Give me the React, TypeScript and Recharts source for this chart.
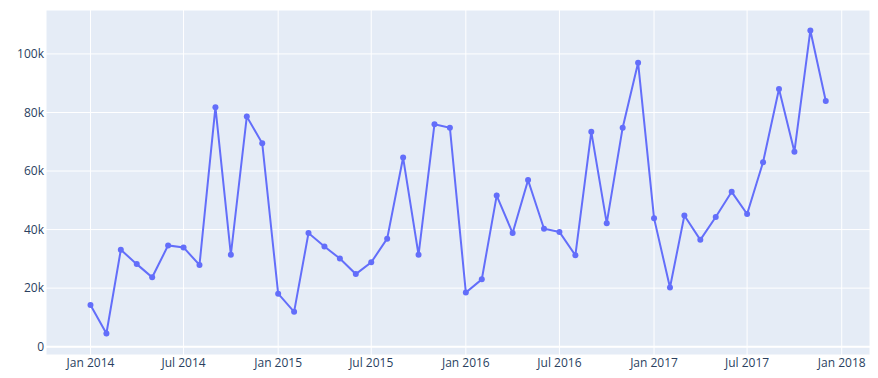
import { LineChart, Line, XAxis, YAxis, CartesianGrid, ReferenceLine } from "recharts";

const years = [2014, 2015, 2016, 2017];
const monthValues = [
  // 2014
  14200, 4500, 33100, 28200, 23700, 34600, 33900, 27900, 81800, 31400, 78600, 69500,
  // 2015
  18100, 11900, 38800, 34200, 30100, 24800, 28800, 36900, 64600, 31400, 76000, 74800,
  // 2016
  18500, 23000, 51600, 38800, 56900, 40300, 39200, 31200, 73400, 42200, 74800, 97000,
  // 2017
  43900, 20200, 44800, 36500, 44300, 52900, 45300, 63000, 88000, 66600, 108000, 83900,
];
const xTickLabels = [
  "Jan 2014", "Jul 2014", "Jan 2015", "Jul 2015", "Jan 2016",
  "Jul 2016", "Jan 2017", "Jul 2017", "Jan 2018",
];
const yTicks = [0, 20000, 40000, 60000, 80000, 100000];

const DAY = 86400000;
const start = Date.UTC(2014, 0, 1);

const data = monthValues.map((value, i) => ({
  t: Date.UTC(years[0] + Math.floor(i / 12), i % 12, 1),
  value,
}));

const xTicks = xTickLabels.map((_, i) => Date.UTC(2014 + Math.floor(i / 2), (i % 2) * 6, 1));

const tickFont = { fontSize: 12, fill: "#2a3f5f", fontFamily: "'Open Sans', sans-serif" };

function fmtY(v: number) {
  return v === 0 ? "0" : `${v / 1000}k`;
}

function fmtX(v: number) {
  const i = xTicks.indexOf(v);
  return i >= 0 ? xTickLabels[i] : "";
}

export default function App() {
  return (
    <div style={{ position: "fixed", top: 0, left: 0, width: 878, height: 378, background: "#fff" }}>
      <LineChart width={878} height={378} data={data} margin={{ top: 10, right: 8, bottom: 0, left: 0 }}>
        <CartesianGrid fill="#e5ecf6" stroke="#fff" strokeWidth={1} />
        <XAxis
          dataKey="t"
          type="number"
          scale="time"
          domain={[start - 86.5 * DAY, start + 1516 * DAY]}
          ticks={xTicks}
          tickFormatter={fmtX}
          axisLine={false}
          tickLine={false}
          tickSize={0}
          tickMargin={3}
          height={23}
          tick={tickFont}
          interval={0}
        />
        <YAxis
          type="number"
          domain={[-2840, 115000]}
          ticks={yTicks}
          tickFormatter={fmtY}
          axisLine={false}
          tickLine={false}
          tickSize={0}
          tickMargin={2}
          width={46}
          tick={tickFont}
          allowDataOverflow
        />
        <ReferenceLine y={0} stroke="#fff" strokeWidth={2} />
        <Line
          type="linear"
          dataKey="value"
          stroke="#636efa"
          strokeWidth={2}
          dot={{ r: 3, fill: "#636efa", stroke: "none" }}
          activeDot={false}
          isAnimationActive={false}
        />
      </LineChart>
    </div>
  );
}
